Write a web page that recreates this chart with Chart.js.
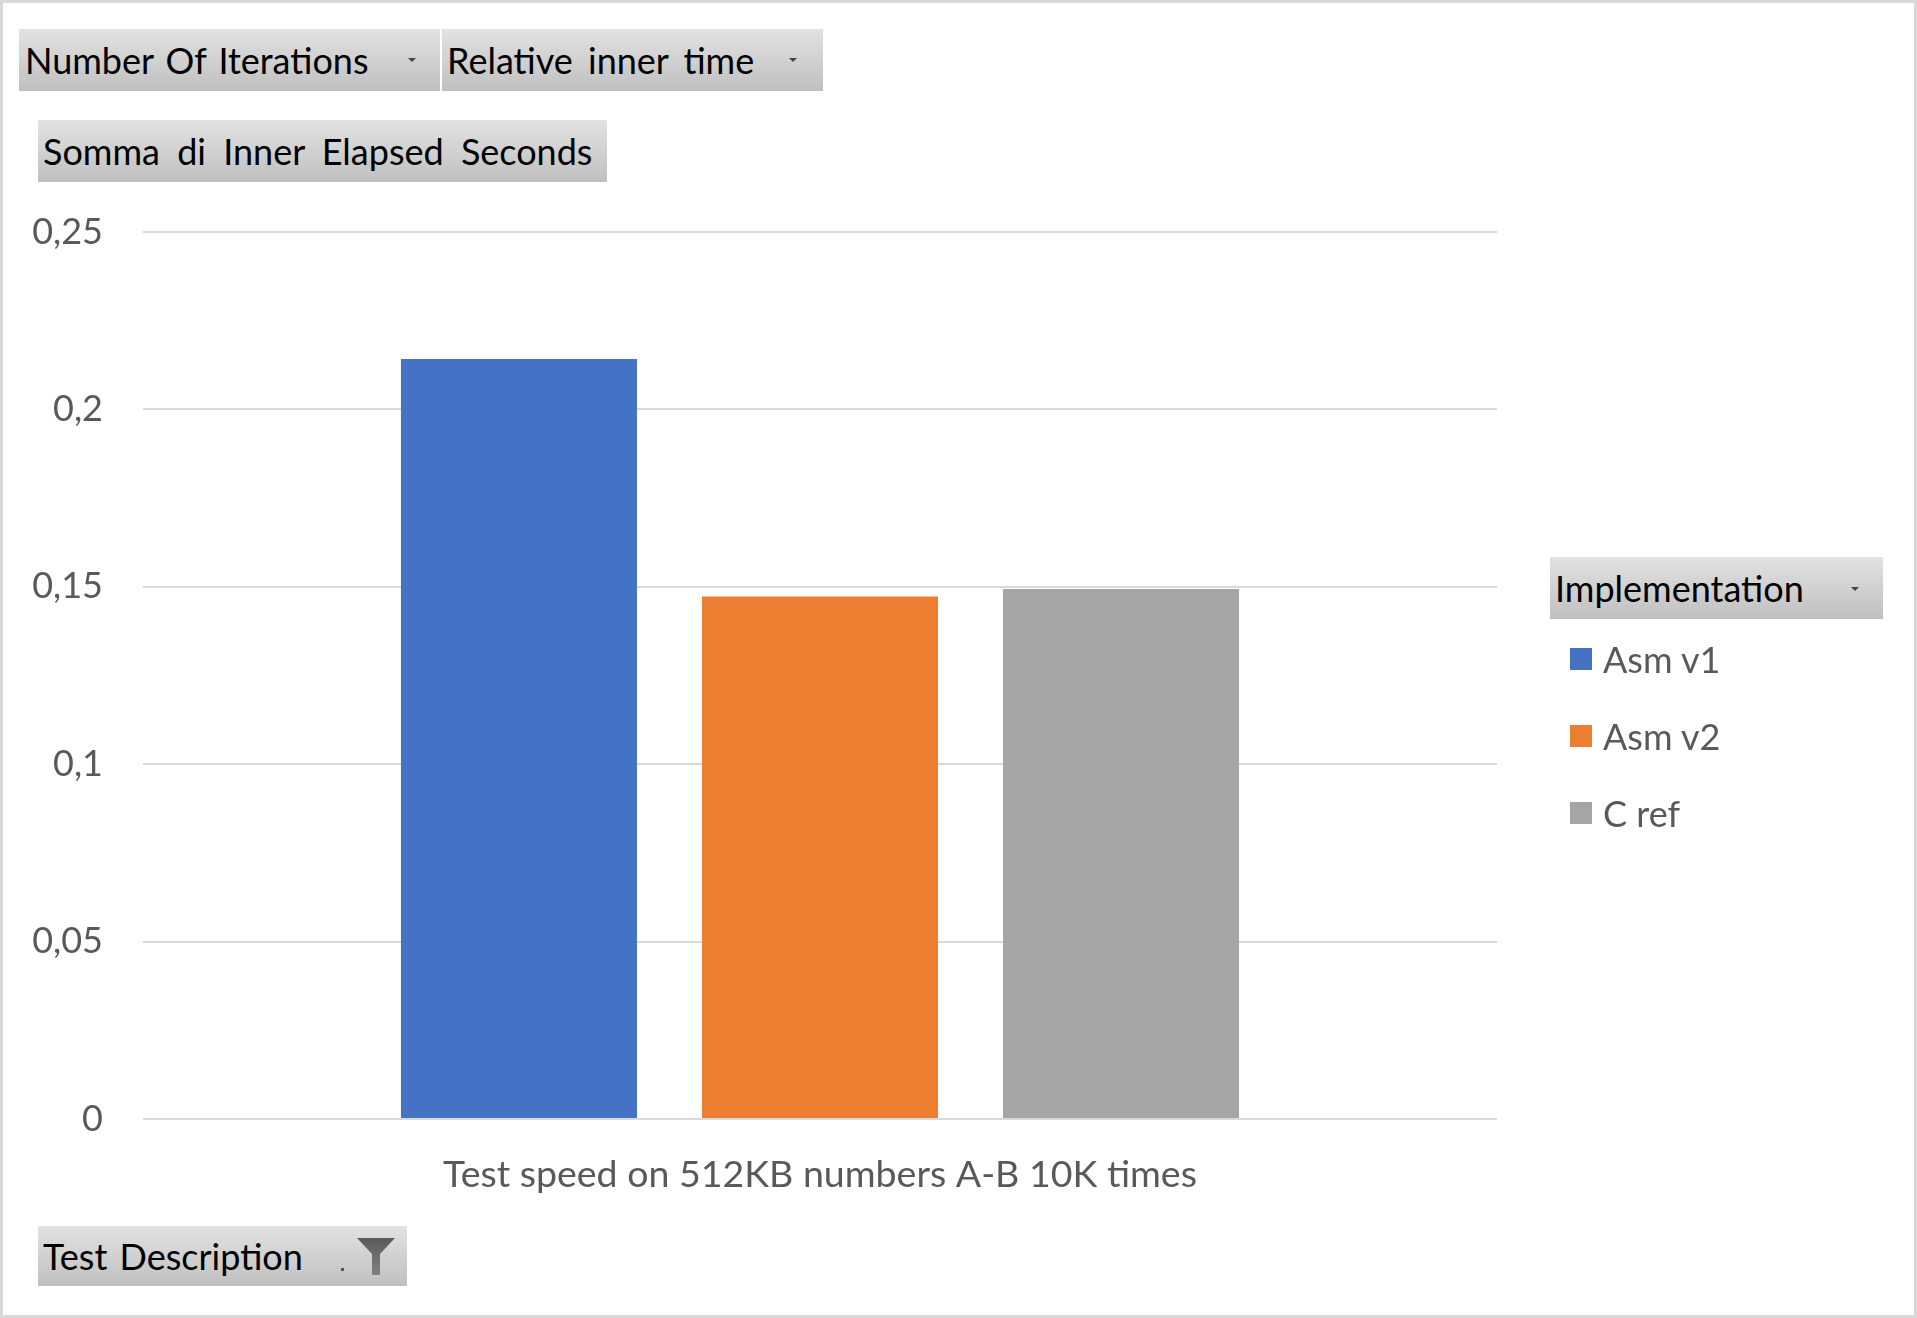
<!DOCTYPE html>
<html>
<head>
  <title>Somma di Inner Elapsed Seconds</title>
  <script src="https://cdn.jsdelivr.net/npm/chart.js"></script>
  <style>
    html, body { margin: 0; padding: 0; background: #fff; }
    #page {
      position: relative;
      width: 1917px;
      height: 1318px;
      overflow: hidden;
      font-family: Lato, 'Open Sans', sans-serif;
    }
    #frame {
      position: absolute; left: 0; top: 0; width: 1917px; height: 1318px;
      box-sizing: border-box; border: 3px solid #d9d9d9; pointer-events: none;
    }
    #chart { position: absolute; left: 0; top: 0; }
    /* pulsanti pivot */
    .pbtn {
      position: absolute;
      background: linear-gradient(#e2e2e2, #c0c0c0);
      color: #000;
      font-size: 36px;
      white-space: nowrap;
      box-sizing: border-box;
      word-spacing: 3px;
    }
    .arrow {
      position: absolute;
      width: 0; height: 0;
      border-left: 4px solid transparent;
      border-right: 4px solid transparent;
      border-top: 4px solid #444;
    }
    #legend { position: absolute; left: 1550px; top: 557px; width: 333px; }
    .lg-item {
      position: absolute; left: 20px; height: 40px;
      display: flex; align-items: center;
      font-size: 36px; color: #595959; line-height: 40px; white-space: nowrap;
    }
    .lg-box { width: 22px; height: 22px; margin-right: 11px; }
  </style>
</head>
<body>
  <div id="page">
    <canvas id="chart" width="1917" height="1318"></canvas>

    <!-- pulsanti in alto -->
    <div class="pbtn" style="left:19px; top:29px; width:421px; height:62px; line-height:62px; padding-left:6px;">Number Of Iterations
      <div class="arrow" style="left:389px; top:29px;"></div></div>
    <div class="pbtn" style="left:442px; top:29px; width:381px; height:62px; line-height:62px; padding-left:5px; word-spacing:6px;">Relative inner time
      <div class="arrow" style="left:347px; top:29px;"></div></div>
    <div class="pbtn" style="left:38px; top:120px; width:569px; height:62px; line-height:62px; padding-left:5px; word-spacing:8px;">Somma di Inner Elapsed Seconds</div>

    <!-- pulsante in basso -->
    <div class="pbtn" style="left:38px; top:1226px; width:369px; height:60px; line-height:60px; padding-left:5px;">Test Description
      <div style="position:absolute; left:303px; top:42px; width:3px; height:3px; background:#555;"></div>
      <svg style="position:absolute; left:318px; top:11px;" width="40" height="40" viewBox="0 0 40 40">
        <defs>
          <linearGradient id="fg" x1="0" y1="0" x2="0" y2="1">
            <stop offset="0" stop-color="#5a5a5a"/>
            <stop offset="1" stop-color="#808080"/>
          </linearGradient>
        </defs>
        <path d="M1 1 L39 1 L24 17 L24 38 L16 38 L16 17 Z" fill="url(#fg)"/>
      </svg>
    </div>

    <!-- legenda -->
    <div id="legend">
      <div class="pbtn" style="left:0; top:0; width:333px; height:62px; line-height:62px; padding-left:5px;">Implementation
        <div class="arrow" style="left:301px; top:30px;"></div></div>
    </div>

    <div id="frame"></div>
  </div>

  <script>
    // Dati
    const categories = ['Test speed on 512KB numbers A-B 10K times'];
    const seriesNames = ['Asm v1', 'Asm v2', 'C ref'];
    const asmV1 = [0.2142];
    const asmV2 = [0.1473];
    const cRef = [0.1494];
    const yTickLabels = ['0', '0,05', '0,1', '0,15', '0,2', '0,25'];
    const seriesColors = ['#4472C4', '#ED7D31', '#A5A5A5'];

    const seriesData = [asmV1, asmV2, cRef];
    const textGray = '#595959';
    const gridGray = '#d9d9d9';

    // Legenda (costruita dalle serie)
    const legendEl = document.getElementById('legend');
    const itemTops = [82, 159, 236];
    seriesNames.forEach((name, i) => {
      const item = document.createElement('div');
      item.className = 'lg-item';
      item.style.top = itemTops[i] + 'px';
      item.innerHTML = `<div class="lg-box" style="background:${seriesColors[i]}"></div><span>${name}</span>`;
      legendEl.appendChild(item);
    });

    // Grafico
    const ctx = document.getElementById('chart').getContext('2d');
    new Chart(ctx, {
      type: 'bar',
      data: {
        labels: categories,
        datasets: seriesNames.map((name, i) => ({
          label: name,
          data: seriesData[i],
          backgroundColor: seriesColors[i],
          borderWidth: 0,
          categoryPercentage: 0.667,
          barPercentage: 0.784
        }))
      },
      options: {
        responsive: false,
        animation: false,
        devicePixelRatio: 1,
        layout: { padding: { left: 0, right: 420, top: 232, bottom: 99 } },
        plugins: {
          legend: { display: false },
          tooltip: { enabled: false }
        },
        scales: {
          x: {
            grid: { display: false },
            border: { display: false },
            ticks: {
              color: textGray,
              font: { family: 'Lato', size: 37.5 },
              padding: 25,
              maxRotation: 0
            },
            afterFit: (s) => { s.height = 100; }
          },
          y: {
            min: 0,
            max: 0.25,
            grid: { color: gridGray, lineWidth: 2, drawTicks: false },
            border: { display: false },
            ticks: {
              stepSize: 0.05,
              color: textGray,
              font: { family: 'Lato', size: 36 },
              padding: 40,
              callback: (v, i) => yTickLabels[i]
            },
            afterFit: (s) => { s.width = 143; }
          }
        }
      }
    });
  </script>
</body>
</html>
